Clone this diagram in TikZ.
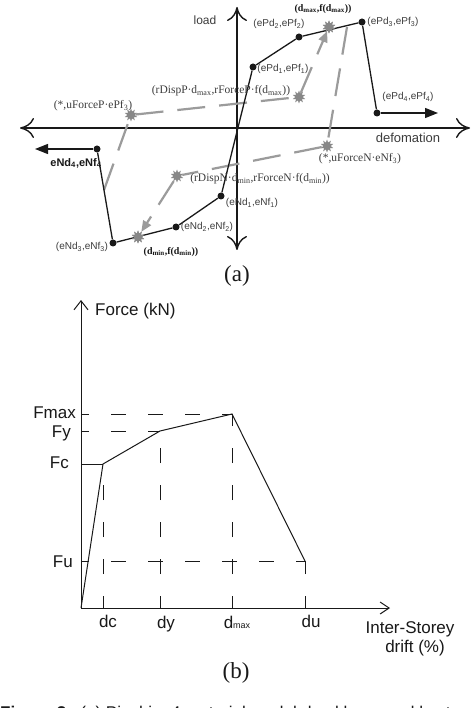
\documentclass[tikz,border=0pt]{standalone}
\usepackage{fontspec}
\setmainfont{Liberation Serif}
\setsansfont{Liberation Sans}
\usetikzlibrary{arrows.meta,shapes.geometric}
\definecolor{ink}{RGB}{25,25,25}
\definecolor{pinch}{RGB}{155,155,155}
\definecolor{starc}{RGB}{135,135,135}
\definecolor{lbl}{RGB}{60,60,60}
\begin{document}
\begin{tikzpicture}[x=1pt,y=-1pt,
  dot/.style={circle,fill=ink,inner sep=0pt,minimum size=7pt},
  starpt/.style={star,star points=10,star point ratio=1.8,fill=starc,inner sep=0pt,minimum size=13pt},
  pinchline/.style={draw=pinch,line width=2.2pt,dash pattern=on 28pt off 14pt},
  pincharrow/.style={pinchline,-{Triangle[length=11pt,width=9pt]}},
  envline/.style={draw=ink,line width=1.3pt},
  axisA/.style={draw=ink,line width=1.4pt},
  cmarrow/.style={{Computer Modern Rightarrow[length=14pt,width=20pt]}-{Computer Modern Rightarrow[length=14pt,width=20pt]}},
  lsans/.style={font=\sffamily\fontsize{10}{12}\selectfont,text=lbl,inner sep=0pt},
  lserif/.style={font=\rmfamily\fontsize{11.5}{13}\selectfont,text=lbl,inner sep=0pt},
  lbold/.style={font=\rmfamily\bfseries\fontsize{10}{12}\selectfont,text=ink,inner sep=0pt},
  axisB/.style={draw=ink,line width=1pt},
  curveB/.style={draw=ink,line width=1pt},
  dashB/.style={draw=ink,line width=1pt,dash pattern=on 15pt off 22pt},
  bsans/.style={font=\sffamily\fontsize{17}{20}\selectfont,text=ink,inner sep=0pt},
  capt/.style={font=\rmfamily\fontsize{23}{26}\selectfont,text=ink,inner sep=0pt}
]
\useasboundingbox (0,0) rectangle (474,708);
\fill[white] (0,0) rectangle (474,708);

% ================= (a) =================
% axes
\coordinate (axl) at (20,128);
\coordinate (axr) at (470,128);
\coordinate (axt) at (237,7);
\coordinate (axb) at (237,250);
\draw[axisA,cmarrow] (axl) -- (axr);
\draw[axisA,cmarrow] (axb) -- (axt);
\node[font=\sffamily\fontsize{12}{14}\selectfont,text=lbl,inner sep=0pt] (load) at (205,20) {load};
\node[font=\sffamily\fontsize{13}{15}\selectfont,text=lbl,inner sep=0pt] (defo) at (408,138) {defomation};

% pinching stars
\node[starpt] (P1) at (131,115) {};
\node[starpt] (P2) at (299,97) {};
\node[starpt] (P3) at (329,27) {};
\node[starpt] (N1) at (327,146) {};
\node[starpt] (N2) at (177,176) {};
\node[starpt] (N3) at (138,237) {};
\coordinate (g1s) at (347,27);
\coordinate (g4s) at (104,190);

% pinching paths
\draw[pinchline] (g1s) -- (N1);
\draw[pinchline] (N1) -- (N2);
\draw[pincharrow] (N2) -- (N3);
\draw[pinchline] (g4s) -- (P1);
\draw[pinchline] (P1) -- (P2);
\draw[pincharrow] (P2) -- (P3);

% envelope points
\node[dot] (pd1) at (253,67) {};
\node[dot] (pd2) at (299,37) {};
\node[dot] (pd3) at (362,22) {};
\node[dot] (pd4) at (377,113) {};
\node[dot] (nd1) at (221,196) {};
\node[dot] (nd2) at (176,227) {};
\node[dot] (nd3) at (113,243) {};
\node[dot] (nd4) at (97,149) {};
\coordinate (pend) at (438,113);
\coordinate (nend) at (35,149);

\draw[envline] (nd1) -- (pd1) -- (pd2) -- (pd3) -- (pd4);
\draw[envline] (nd1) -- (nd2) -- (nd3) -- (nd4);
\draw[envline,-{Triangle[length=13pt,width=10pt]}] (pd4) -- (pend);
\draw[envline,-{Triangle[length=13pt,width=10pt]}] (nd4) -- (nend);

% redraw stars on top
\foreach \s in {P3,N3}{\node[starpt] at (\s) {};}

% labels
\node[lsans] (lpd1) at (283,69) {(ePd\textsubscript{1},ePf\textsubscript{1})};
\node[lsans] (lpd2) at (279,24) {(ePd\textsubscript{2},ePf\textsubscript{2})};
\node[lbold] (ldmax) at (323,9) {(d\textsubscript{max},f(d\textsubscript{max}))};
\node[lsans] (lpd3) at (393,22) {(ePd\textsubscript{3},ePf\textsubscript{3})};
\node[lsans] (lpd4) at (408,97) {(ePd\textsubscript{4},ePf\textsubscript{4})};
\node[lserif] (lrp) at (221,91) {(rDispP·d\textsubscript{max},rForceP·f(d\textsubscript{max}))};
\node[lserif] (lup) at (93,106) {(*,uForceP·ePf\textsubscript{3})};
\node[font=\sffamily\bfseries\fontsize{11}{13}\selectfont,text=ink,inner sep=0pt] (lnd4) at (76,163) {eNd\textsubscript{4},eNf\textsubscript{4}};
\node[lsans] (lnd3) at (82,247) {(eNd\textsubscript{3},eNf\textsubscript{3})};
\node[lbold] (ldmin) at (171,252) {(d\textsubscript{min},f(d\textsubscript{min}))};
\node[lsans] (lnd2) at (207,227) {(eNd\textsubscript{2},eNf\textsubscript{2})};
\node[lsans] (lnd1) at (252,203) {(eNd\textsubscript{1},eNf\textsubscript{1})};
\node[lserif] (lrn) at (260,179) {(rDispN·d\textsubscript{min},rForceN·f(d\textsubscript{min}))};
\node[lserif] (lun) at (360,159) {(*,uForceN·eNf\textsubscript{3})};

\node[capt,anchor=base] (capa) at (237,281) {(a)};

% ================= (b) =================
\coordinate (O) at (81,608);
\coordinate (ytip) at (81,300);
\coordinate (xtip) at (390,608);
\draw[axisB,-{Straight Barb[length=9pt,width=14pt]}] (O) -- (ytip);
\draw[axisB,-{Straight Barb[length=9pt,width=12pt]}] (O) -- (xtip);

\coordinate (C) at (103,464);
\coordinate (Y) at (160,431);
\coordinate (M) at (232,414);
\coordinate (U) at (305,561);
\coordinate (yFc) at (81,464);
\coordinate (yFy) at (81,431);
\coordinate (yFm) at (81,414);
\coordinate (yFu) at (81,561);
\coordinate (xdc) at (103,608);
\coordinate (xdy) at (160,608);
\coordinate (xdm) at (232,608);
\coordinate (xdu) at (305,608);

\draw[curveB] (O) -- (C) -- (Y) -- (M) -- (U);
\draw[curveB] (yFc) -- (C);
\draw[dashB,dash phase=7pt] (yFm) -- (M);
\draw[dashB,dash phase=7pt] (yFy) -- (Y);
\draw[dashB,dash phase=7pt] (yFu) -- (U);
\draw[dashB,dash phase=3pt] (xdc) -- (C);
\draw[dashB,dash phase=3pt] (xdy) -- (Y);
\draw[dashB,dash phase=3pt] (xdm) -- (M);
\draw[dashB,dash phase=3pt] (xdu) -- (U);

\node[bsans,anchor=base west] (force) at (95,315) {Force (kN)};
\node[bsans,anchor=base east] (lFm) at (76,418) {Fmax};
\node[bsans,anchor=base east] (lFy) at (71,437) {Fy};
\node[bsans,anchor=base east] (lFc) at (69,468) {Fc};
\node[bsans,anchor=base east] (lFu) at (73,567) {Fu};
\node[bsans,anchor=base] (ldc) at (108,627) {dc};
\node[bsans,anchor=base] (ldy) at (166,628) {dy};
\node[bsans,anchor=base] (ldm) at (237,628) {d{\fontsize{9}{10}\selectfont max}};
\node[bsans,anchor=base] (ldu) at (311,627) {du};
\node[bsans,anchor=base] (lis) at (410,633) {Inter-Storey};
\node[bsans,anchor=base] (ldr) at (415,652) {drift (\%)};
\node[capt,anchor=base] (capb) at (236,678) {(b)};

% caption (cut by page edge)
\node[font=\sffamily\fontsize{17}{20}\selectfont,text=ink,inner sep=0pt,anchor=base west] (figcap) at (0,718) {\textbf{Figure 3.}\ \ (a) Pinching4 material model: backbone and hysteretic rule};
\end{tikzpicture}
\end{document}
